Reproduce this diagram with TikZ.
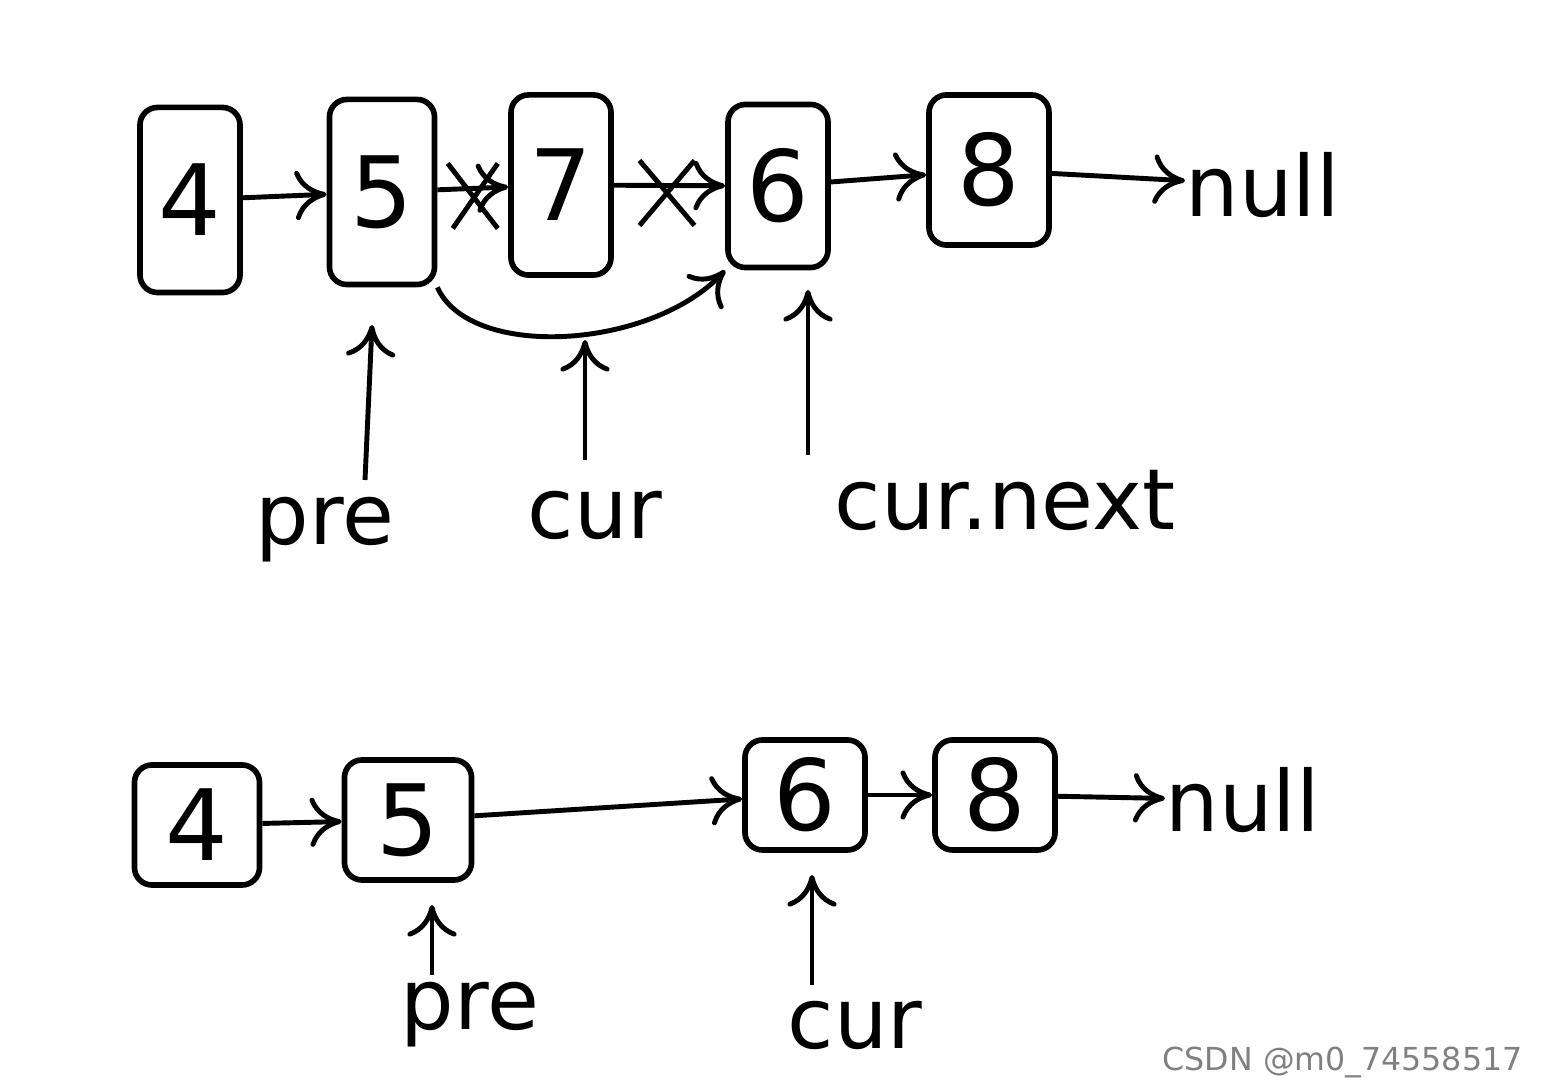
\documentclass[tikz,border=0pt]{standalone}
\usepackage{fontspec}
\setmainfont{DejaVu Sans}
\usetikzlibrary{arrows.meta}
\begin{document}
\begin{tikzpicture}[x=0.01cm,y=-0.01cm,
  box/.style={draw,line width=1.6pt,rounded corners=5pt,inner sep=0pt,font=\fontsize{28}{28}\selectfont},
  lbl/.style={font=\fontsize{24}{24}\selectfont,inner sep=0pt},
  arr/.style={-{To[length=9pt,width=14pt]},line width=1.4pt},
  cross/.style={line width=1.4pt}]
\useasboundingbox (0,0) rectangle (1548,1080);
% ---------- top row ----------
\node[box,minimum width=1.0cm,minimum height=1.85cm] (t4) at (190,200) {4};
\node[box,minimum width=1.05cm,minimum height=1.85cm] (t5) at (382,192) {5};
\node[box,minimum width=1.0cm,minimum height=1.8cm] (t7) at (561,185) {7};
\node[box,minimum width=1.0cm,minimum height=1.63cm] (t6) at (778,186) {6};
\node[box,minimum width=1.2cm,minimum height=1.5cm] (t8) at (989,170) {8};
\node[lbl,anchor=west] (tnull) at (1185,185) {null};
\draw[arr] (t4) -- (t5);
\draw[arr] (t5) -- (t7) coordinate[pos=0.5] (x1);
\draw[arr] (t7) -- (t6) coordinate[pos=0.5] (x2);
\draw[arr] (t6) -- (t8);
\draw[arr] (t8) -- (tnull);
\draw[cross] ([shift={(-25,-25)}]x1) -- ([shift={(25,40)}]x1) ([shift={(25,-25)}]x1) -- ([shift={(-20,40)}]x1);
\draw[cross] ([shift={(-30,-25)}]x2) -- ([shift={(25,40)}]x2) ([shift={(25,-25)}]x2) -- ([shift={(-30,40)}]x2);
\draw[arr] (t5.south east) .. controls (470,360) and (650,350) .. (t6.south west);
% pointers
\node[lbl] (tpre) at (325,530) {pre};
\node[lbl] (tcur) at (595,515) {cur};
\node[lbl] (tnext) at (1005,500) {cur.next};
\coordinate (p1) at (372,325);
\coordinate (p2) at (585,340);
\coordinate (p3) at (808,290);
\coordinate (s1) at (365,480);
\coordinate (s2) at (585,460);
\coordinate (s3) at (808,455);
\draw[arr] (s1) -- (p1);
\draw[arr] (s2) -- (p2);
\draw[arr] (s3) -- (p3);
% ---------- bottom row ----------
\node[box,minimum width=1.25cm,minimum height=1.2cm] (b4) at (197,825) {4};
\node[box,minimum width=1.27cm,minimum height=1.2cm] (b5) at (408,820) {5};
\node[box,minimum width=1.2cm,minimum height=1.1cm] (b6) at (805,795) {6};
\node[box,minimum width=1.2cm,minimum height=1.1cm] (b8) at (995,795) {8};
\node[lbl,anchor=west] (bnull) at (1165,800) {null};
\draw[arr] (b4) -- (b5);
\draw[arr] (b5) -- (b6);
\draw[arr] (b6) -- (b8);
\draw[arr] (b8) -- (bnull);
\node[lbl] (bpre) at (470,1015) {pre};
\node[lbl] (bcur) at (855,1025) {cur};
\coordinate (q1) at (432,905);
\coordinate (q2) at (812,875);
\coordinate (r1) at (432,975);
\coordinate (r2) at (812,985);
\draw[arr] (r1) -- (q1);
\draw[arr] (r2) -- (q2);
\node[font=\fontsize{9}{9}\selectfont,text=gray,anchor=east] (wm) at (1535,1062) {CSDN @m0\_74558517};
\end{tikzpicture}
\end{document}
